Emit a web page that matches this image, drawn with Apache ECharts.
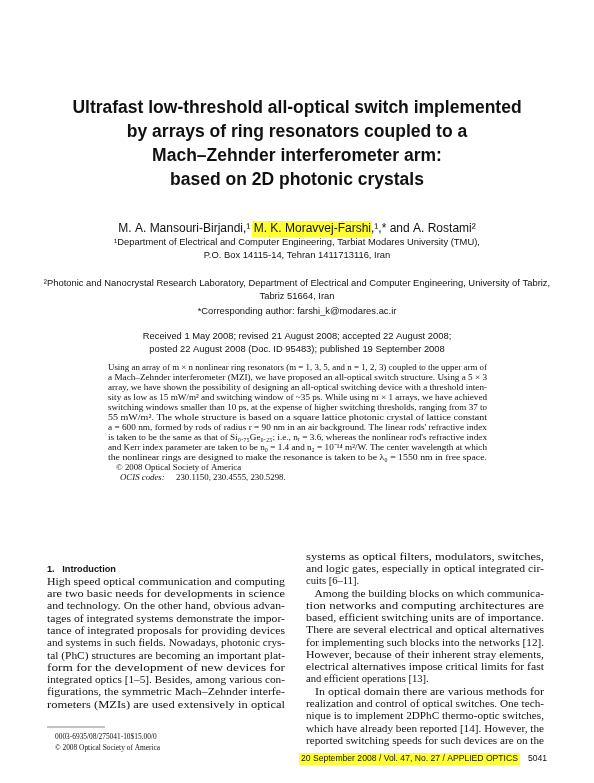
<!DOCTYPE html>
<html><head><meta charset="utf-8">
<script src="https://cdn.jsdelivr.net/npm/echarts@6/dist/echarts.min.js"></script>
<style>html,body{margin:0;padding:0;background:#fff}#c{width:594px;height:783px}</style>
</head><body><div id="c"></div>
<script>
const titleLines = ["Ultrafast low-threshold all-optical switch implemented","by arrays of ring resonators coupled to a","Mach–Zehnder interferometer arm:","based on 2D photonic crystals"];
const affilLines = ["¹Department of Electrical and Computer Engineering, Tarbiat Modares University (TMU),","P.O. Box 14115-14, Tehran 1411713116, Iran","²Photonic and Nanocrystal Research Laboratory, Department of Electrical and Computer Engineering, University of Tabriz,","Tabriz 51664, Iran","*Corresponding author: farshi_k@modares.ac.ir"];
const dateLines = ["Received 1 May 2008; revised 21 August 2008; accepted 22 August 2008;","posted 22 August 2008 (Doc. ID 95483); published 19 September 2008"];
const abstractLines = [
"Using an array of m × n nonlinear ring resonators (m = 1, 3, 5, and n = 1, 2, 3) coupled to the upper arm of",
"a Mach–Zehnder interferometer (MZI), we have proposed an all-optical switch structure. Using a 5 × 3",
"array, we have shown the possibility of designing an all-optical switching device with a threshold inten-",
"sity as low as 15 mW/m² and switching window of ~35 ps. While using m × 1 arrays, we have achieved",
"switching windows smaller than 10 ps, at the expense of higher switching thresholds, ranging from 37 to",
"55 mW/m². The whole structure is based on a square lattice photonic crystal of lattice constant",
"a = 600 nm, formed by rods of radius r = 90 nm in an air background. The linear rods' refractive index",
"is taken to be the same as that of Si₀.₇₅Ge₀.₂₅; i.e., nᵣ = 3.6, whereas the nonlinear rod's refractive index",
"and Kerr index parameter are taken to be n₀ = 1.4 and n₂ = 10⁻¹⁴ m²/W. The center wavelength at which",
"the nonlinear rings are designed to make the resonance is taken to be λ₀ = 1550 nm in free space."];
const leftLines = ["High speed optical communication and computing","are two basic needs for developments in science","and technology. On the other hand, obvious advan-","tages of integrated systems demonstrate the impor-","tance of integrated proposals for providing devices","and systems in such fields. Nowadays, photonic crys-","tal (PhC) structures are becoming an important plat-","form for the development of new devices for","integrated optics [1–5]. Besides, among various con-","figurations, the symmetric Mach–Zehnder interfe-","rometers (MZIs) are used extensively in optical"];
const rightLines = ["systems as optical filters, modulators, switches,","and logic gates, especially in optical integrated cir-","cuits [6–11].","   Among the building blocks on which communica-","tion networks and computing architectures are","based, efficient switching units are of importance.","There are several electrical and optical alternatives","for implementing such blocks into the networks [12].","However, because of their inherent stray elements,","electrical alternatives impose critical limits for fast","and efficient operations [13].","   In optical domain there are various methods for","realization and control of optical switches. One tech-","nique is to implement 2DPhC thermo-optic switches,","which have already been reported [14]. However, the","reported switching speeds for such devices are on the"];
const footnoteLines = ["0003-6935/08/275041-10$15.00/0","© 2008 Optical Society of America"];

const g = [];
const SANS = 'Liberation Sans', SERIF = 'Liberation Serif';
function txt(x,y,s,size,opt){opt=opt||{};
  const style={text:s,x:0,y:0,fontFamily:opt.ff||SERIF,fontSize:size,fontWeight:opt.fw||'normal',fontStyle:opt.fs||'normal',fill:'#111',textAlign:opt.align||'left',textVerticalAlign:'middle'};
  const el={type:'text',x:x,y:y,style:style};
  if(opt.w){el.__w=opt.w;}
  g.push(el);return el;}
g.push({type:'rect',shape:{x:252,y:221,width:120,height:16},style:{fill:'#ffff33'}});
g.push({type:'rect',shape:{x:299,y:753,width:221,height:12},style:{fill:'#ffff33'}});
titleLines.forEach((s,i)=>txt(297,108+i*24,s,17.5,{ff:SANS,fw:'bold',align:'center'}));
txt(297,229,"M. A. Mansouri-Birjandi,¹ M. K. Moravvej-Farshi,¹,* and A. Rostami²",12,{ff:SANS,align:'center'});
const affY=[242,255,283,296,311];
affilLines.forEach((s,i)=>txt(297,affY[i],s,9.4,{ff:SANS,align:'center'}));
dateLines.forEach((s,i)=>txt(297,336+i*13,s,9.4,{ff:SANS,align:'center'}));
abstractLines.forEach((s,i)=>txt(108,368+i*10,s,8.8,{w:379}));
txt(116,468,"© 2008 Optical Society of America",8.8);
txt(120,478,"OCIS codes:",8.8,{fs:'italic'});
txt(176,478,"230.1150, 230.4555, 230.5298.",8.8);
txt(47,569,"1.   Introduction",9.2,{ff:SANS,fw:'bold'});
leftLines.forEach((s,i)=>txt(47,582+i*12.3,s,10.6,{w:238}));
rightLines.forEach((s,i)=>txt(306,557+i*12.27,s,10.6,{w:238}));
g.push({type:'line',shape:{x1:47,y1:727,x2:105,y2:727},style:{stroke:'#333',lineWidth:0.6}});
footnoteLines.forEach((s,i)=>txt(55,737+i*11,s,7.4));
txt(301,759,"20 September 2008 / Vol. 47, No. 27 / APPLIED OPTICS",8.6,{ff:SANS});
txt(528,759,"5041",8.6,{ff:SANS});

const cvs=document.createElement('canvas').getContext('2d');
g.forEach(el=>{if(el.__w){const st=el.style;cvs.font=st.fontSize+'px "'+st.fontFamily+'"';
  const w=cvs.measureText(st.text).width;const end=/[\].]$/.test(st.text)&&w<el.__w*0.85;
  if(!end&&w>0){el.scaleX=el.__w/w;}delete el.__w;}});
const chart=echarts.init(document.getElementById('c'),null,{renderer:'canvas'});
chart.setOption({animation:false,graphic:{elements:g}});
</script></body></html>
